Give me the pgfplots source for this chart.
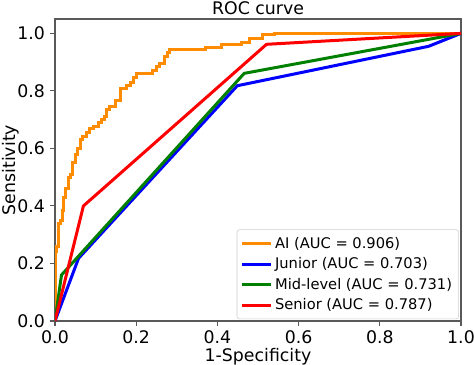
\documentclass[border=0pt]{standalone}
\usepackage{fontspec}
\setmainfont{DejaVu Sans}
\usepackage{pgfplots}
\pgfplotsset{compat=1.18}
\definecolor{aiorange}{HTML}{FF8C00}
\definecolor{jblue}{HTML}{0000FF}
\definecolor{mgreen}{HTML}{008000}
\definecolor{sred}{HTML}{FF0000}
\begin{document}
\begin{tikzpicture}
\begin{axis}[
  scale only axis,
  width=304.5pt, height=226.5pt,
  xmin=0, xmax=1, ymin=0, ymax=1.05,
  xtick={0,0.2,0.4,0.6,0.8,1.0},
  ytick={0,0.2,0.4,0.6,0.8,1.0},
  xticklabel style={/pgf/number format/.cd,fixed,fixed zerofill,precision=1},
  yticklabel style={/pgf/number format/.cd,fixed,fixed zerofill,precision=1},
  /pgf/number format/assume math mode=true,
  tick label style={font=\fontsize{13}{15}\selectfont},
  label style={font=\fontsize{13}{15}\selectfont},
  title style={font=\fontsize{13}{15}\selectfont, yshift=-6pt},
  title={ROC curve},
  xlabel={1-Specificity}, ylabel={Sensitivity},
  xlabel style={yshift=4pt},
  ylabel style={yshift=-8pt},
  tick align=outside, tick pos=left,
  major tick length=4pt,
  axis line style={black!65, line width=0.8pt},
  every tick/.style={black!65, line width=0.8pt},
  legend style={font=\fontsize{11}{15}\selectfont, draw=black!20, rounded corners=2pt,
    at={(0.995,0.006)}, anchor=south east, inner xsep=3pt, inner ysep=3.5pt, row sep=1.5pt},
  legend cell align=left,
  legend image code/.code={\draw[#1, line width=2.25pt] (0cm,0cm) -- (0.75cm,0cm);},
]
\addplot[aiorange, line width=2.25pt] coordinates {
(0,0) (0,0.24) (0.004,0.24) (0.004,0.26) (0.008,0.26) (0.008,0.34) (0.014,0.34) (0.014,0.35) (0.018,0.35) (0.018,0.385) (0.022,0.385) (0.022,0.43) (0.027,0.43) (0.027,0.46) (0.033,0.46) (0.033,0.5) (0.038,0.5) (0.038,0.51) (0.044,0.51) (0.044,0.55) (0.05,0.55) (0.05,0.58) (0.056,0.58) (0.056,0.60) (0.062,0.60) (0.062,0.63) (0.068,0.63) (0.068,0.64) (0.078,0.64) (0.078,0.655) (0.086,0.655) (0.086,0.67) (0.094,0.67) (0.094,0.676) (0.107,0.676) (0.107,0.69) (0.115,0.69) (0.115,0.70) (0.123,0.70) (0.123,0.71) (0.127,0.71) (0.127,0.734) (0.135,0.734) (0.135,0.745) (0.148,0.745) (0.148,0.765) (0.162,0.765) (0.162,0.81) (0.176,0.81) (0.176,0.82) (0.185,0.82) (0.185,0.83) (0.193,0.83) (0.193,0.845) (0.2,0.845) (0.2,0.86) (0.24,0.86) (0.24,0.87) (0.25,0.87) (0.25,0.885) (0.258,0.885) (0.258,0.895) (0.27,0.895) (0.27,0.92) (0.276,0.92) (0.276,0.935) (0.283,0.935) (0.283,0.943) (0.37,0.943) (0.37,0.95) (0.41,0.95) (0.41,0.96) (0.46,0.96) (0.46,0.97) (0.478,0.97) (0.478,0.983) (0.51,0.983) (0.51,0.995) (0.54,0.995) (0.54,1) (1,1)
};
\addlegendentry{AI (AUC = 0.906)}
\addplot[jblue, line width=2.25pt] coordinates {(0,0) (0.058,0.218) (0.449,0.818) (0.92,0.955) (1,1)};
\addlegendentry{Junior (AUC = 0.703)}
\addplot[mgreen, line width=2.25pt] coordinates {(0,0) (0.016,0.16) (0.466,0.861) (1,1)};
\addlegendentry{Mid-level (AUC = 0.731)}
\addplot[sred, line width=2.25pt] coordinates {(0,0) (0.07,0.40) (0.521,0.962) (1,1)};
\addlegendentry{Senior (AUC = 0.787)}
\end{axis}
\pgfresetboundingbox
\useasboundingbox (current axis.south west) ++(-41.25pt,-32.25pt) rectangle ([xshift=9.75pt,yshift=14.25pt]current axis.north east);
\end{tikzpicture}
\end{document}
